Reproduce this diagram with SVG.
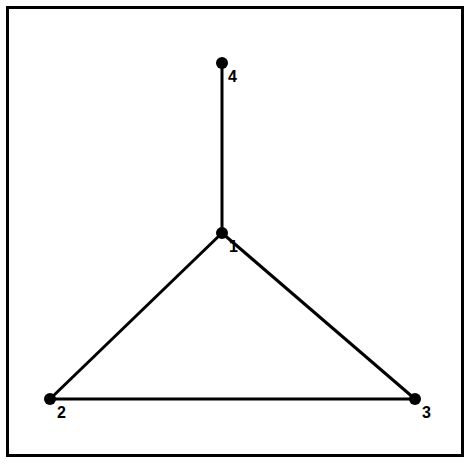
<svg xmlns="http://www.w3.org/2000/svg" width="474" height="467" viewBox="0 0 474 467">
<style>
.edge{stroke:#000;stroke-width:3;fill:none}
.dot{fill:#000}
.lbl{font-family:"Liberation Sans",Arial,sans-serif;font-weight:bold;font-size:16px;fill:#000}
</style>
<rect x="7.5" y="7.5" width="455" height="448" fill="#fff" stroke="#000" stroke-width="3"/>
<g id="connectors">
<line class="edge" x1="222" y1="63" x2="222" y2="233"/>
<line class="edge" x1="222" y1="233" x2="50" y2="399"/>
<line class="edge" x1="222" y1="233" x2="415" y2="399"/>
<line class="edge" x1="50" y1="399" x2="415" y2="399"/>
</g>
<g id="node4"><circle class="dot" cx="222" cy="63" r="6"/><text class="lbl" x="228" y="82">4</text></g>
<g id="node1"><circle class="dot" cx="222" cy="233" r="6"/><text class="lbl" x="229" y="252">1</text></g>
<g id="node2"><circle class="dot" cx="50" cy="399" r="6"/><text class="lbl" x="57" y="418">2</text></g>
<g id="node3"><circle class="dot" cx="415" cy="399" r="6"/><text class="lbl" x="422" y="418">3</text></g>
</svg>
